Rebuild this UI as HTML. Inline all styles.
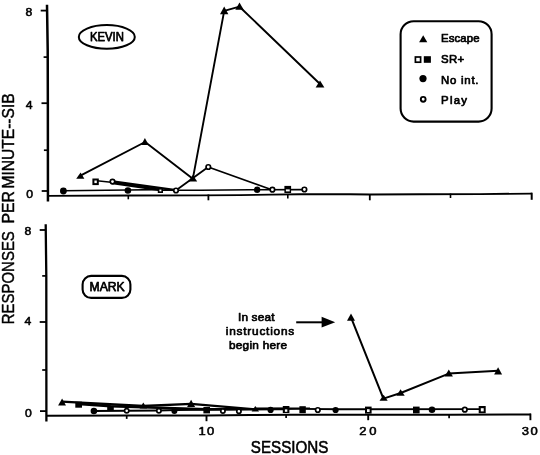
<!DOCTYPE html>
<html>
<head>
<meta charset="utf-8">
<title>Responses per minute - SIB</title>
<style>
html,body{margin:0;padding:0;background:#fff;}
svg{display:block;}
text{font-family:"Liberation Sans",sans-serif;fill:#000;stroke:#000;stroke-width:0.45;stroke-linejoin:round;}
.b{font-weight:bold;stroke-width:0.1;}
.m{font-weight:normal;stroke-width:0.7;}
.d{font-weight:normal;stroke-width:0.55;font-size:11.5px;}
.ln{stroke:#000;fill:none;stroke-linejoin:round;stroke-linecap:butt;}
.os{fill:#fff;stroke:#000;stroke-width:2;}
.oc{fill:#fff;stroke:#000;stroke-width:1.7;}
</style>
</head>
<body>
<svg width="540" height="455" viewBox="0 0 540 455">
<rect x="0" y="0" width="540" height="455" fill="#fff"/>

<!-- ===== y axis title ===== -->
<g transform="translate(14.1,323) rotate(-90)">
<text x="-1.2" y="0" font-size="17.3" textLength="93" lengthAdjust="spacingAndGlyphs">RESPONSES</text>
<text x="99.4" y="0" font-size="17.3" textLength="32.6" lengthAdjust="spacingAndGlyphs">PER</text>
<text x="134.6" y="0" font-size="17.3" textLength="95" lengthAdjust="spacingAndGlyphs">MINUTE--SIB</text>
</g>

<!-- ===== TOP PANEL axes ===== -->
<g class="ln">
<polyline points="47,4.8 47.7,50 47.85,103 47.95,201.6" stroke-width="2.5"/>
<polyline points="47,195.9 128,195.5 200,195.4 240,195.1 270,194.6 300,194.3 350,194.3 370,194.5 420,194.3 480,194.1 532,193.6" stroke-width="1.9"/>
<!-- y ticks -->
<line x1="40.7" y1="10.6" x2="47" y2="10.6" stroke-width="1.8"/>
<line x1="43.6" y1="57.1" x2="47.3" y2="57.1" stroke-width="1.7"/>
<line x1="41.5" y1="103.2" x2="47.5" y2="103.2" stroke-width="1.8"/>
<line x1="43.9" y1="150.2" x2="47.7" y2="150.2" stroke-width="1.7"/>
<line x1="41.7" y1="191" x2="47.8" y2="191" stroke-width="1.8"/>
<!-- x ticks -->
<line x1="128.3" y1="195" x2="128.3" y2="199.3" stroke-width="1.6"/>
<line x1="208.4" y1="194.5" x2="208.4" y2="200.3" stroke-width="1.8"/>
<line x1="287.8" y1="194" x2="287.8" y2="198.6" stroke-width="1.6"/>
<line x1="369.8" y1="194" x2="369.8" y2="200.3" stroke-width="1.8"/>
<line x1="450.5" y1="193.6" x2="450.5" y2="198" stroke-width="1.6"/>
<line x1="531.7" y1="192.7" x2="531.7" y2="199.8" stroke-width="2"/>
</g>

<!-- top panel tick labels -->
<text class="d" transform="translate(29.0,16.3) scale(1.06,1)" text-anchor="middle">8</text>
<text class="d" transform="translate(29.2,108.6) scale(1.06,1)" text-anchor="middle">4</text>
<text class="d" transform="translate(29.7,197.5) scale(1.06,1)" text-anchor="middle">0</text>

<!-- ===== TOP PANEL data ===== -->
<g class="ln" stroke-width="1.8">
<!-- baseline run (No int. / SR+ / Play overlapping) -->
<polyline points="63.4,190.8 128,190 158,189.6" stroke-width="1.6"/>
<polyline points="160,190.3 176,190.3 200,190.2 250,189.7 304.4,189.6" stroke-width="1.6"/>
<!-- SR+ -->
<polyline points="97,180.8 111,182.3" stroke-width="1.4"/>
<polyline points="112.5,183 160.6,190" stroke-width="2.6"/>
<!-- Play -->
<polyline points="112.6,181.4 175.8,190.2" stroke-width="2.4"/>
<polyline points="175.8,190.4 208.2,167 272.5,190"/>
<!-- Escape -->
<polyline points="80.4,175.6 145.1,142 192.8,178.8 224.2,10.8 239.5,6.7 320,84" stroke-width="1.9"/>
</g>
<!-- markers top -->
<g fill="#000" stroke="none">
<polygon points="80.6,172.4 84.4,178.8 76.2,178.8"/>
<polygon points="144.9,138 148.6,145 141.2,145"/>
<polygon points="192.8,175 197.2,181.4 188.4,181.4"/>
<polygon points="224.2,6.6 228.4,14.2 220,14.2"/>
<polygon points="239.5,2.6 243.7,9.8 235.3,9.8"/>
<polygon points="320,80.4 324.4,87.4 315.6,87.4"/>
<circle cx="63.4" cy="191" r="3.4"/>
<circle cx="127.9" cy="190.5" r="3.3"/>
<circle cx="257.1" cy="189.8" r="3.2"/>
</g>
<g class="oc">
<circle cx="112.5" cy="181.6" r="2.25"/>
<circle cx="176" cy="190.5" r="2.25"/>
<circle cx="208.3" cy="167" r="2.25"/>
<circle cx="272.4" cy="189.7" r="2.25"/>
<circle cx="304.4" cy="189.5" r="2.25"/>
</g>
<g class="os">
<rect x="93.4" y="179.5" width="4.4" height="4.6"/>
<rect x="158.6" y="188.8" width="3.6" height="3.4" stroke-width="1.6"/>

</g>
<rect x="284.4" y="185.9" width="6.7" height="7.1" fill="#000"/>
<rect x="285.9" y="189.4" width="3.8" height="2" fill="#fff"/>

<!-- KEVIN label -->
<ellipse cx="106.8" cy="36.9" rx="28" ry="11.8" fill="#fff" stroke="#000" stroke-width="2"/>
<text x="89.9" y="41.3" font-size="12.8" textLength="34" lengthAdjust="spacingAndGlyphs" style="stroke-width:0.75">KEVIN</text>

<!-- Legend -->
<rect x="400.6" y="21.3" width="91" height="100.3" rx="13" ry="13" fill="#fff" stroke="#000" stroke-width="2.1"/>
<polygon points="423.2,35.2 427.3,42.3 419.1,42.3" fill="#000"/>
<rect x="415.4" y="57" width="5.2" height="5.2" fill="#fff" stroke="#000" stroke-width="1.7"/>
<rect x="423.8" y="56.2" width="7.1" height="6.6" fill="#000"/>
<circle cx="423" cy="78.6" r="3.6" fill="#000"/>
<circle cx="423.2" cy="99.3" r="2.4" fill="#fff" stroke="#000" stroke-width="1.9"/>
<text class="m" x="441" y="42.2" font-size="11.4" textLength="38.6" lengthAdjust="spacing">Escape</text>
<text class="m" x="441" y="63.2" font-size="11.4" textLength="23.2" lengthAdjust="spacing">SR+</text>
<text class="m" x="441" y="84.1" font-size="11.4" textLength="37.5" lengthAdjust="spacing">No int.</text>
<text class="m" x="441" y="103.6" font-size="11.4" textLength="26" lengthAdjust="spacing">Play</text>

<!-- ===== BOTTOM PANEL axes ===== -->
<g class="ln">
<polyline points="45.7,224.2 46.3,276 46.4,421.5" stroke-width="2.3"/>
<polyline points="46,415.8 126,415.6 206,415.5 250,415.1 290,414.8 450,414.8 531,414.5" stroke-width="2"/>
<line x1="39.7" y1="230" x2="46" y2="230" stroke-width="1.8"/>
<line x1="42.2" y1="275.9" x2="46" y2="275.9" stroke-width="1.7"/>
<line x1="39.7" y1="322" x2="46.3" y2="322" stroke-width="1.8"/>
<line x1="42.2" y1="370" x2="46.5" y2="370" stroke-width="1.7"/>
<line x1="40" y1="411.1" x2="46.7" y2="411.1" stroke-width="1.8"/>
<line x1="126.7" y1="415.5" x2="126.7" y2="418.9" stroke-width="1.7"/>
<line x1="206.5" y1="415.5" x2="206.5" y2="421.2" stroke-width="1.9"/>
<line x1="286.1" y1="415" x2="286.1" y2="418.1" stroke-width="1.7"/>
<line x1="368.2" y1="414.5" x2="368.2" y2="420.2" stroke-width="1.9"/>
<line x1="449.1" y1="414" x2="449.1" y2="418.2" stroke-width="1.7"/>
<line x1="530.4" y1="413.6" x2="530.4" y2="420.2" stroke-width="1.9"/>
</g>
<text class="d" transform="translate(28.0,234.7) scale(1.06,1)" text-anchor="middle">8</text>
<text class="d" transform="translate(28.0,325.1) scale(1.06,1)" text-anchor="middle">4</text>
<text class="d" transform="translate(28.5,416.5) scale(1.06,1)" text-anchor="middle">0</text>
<text class="d" transform="translate(198.6,434.9) scale(1.13,1)" letter-spacing="1.1">10</text>
<text class="d" transform="translate(359.2,434.5) scale(1.13,1)" letter-spacing="2.4">20</text>
<text class="d" transform="translate(521.7,434.5) scale(1.13,1)" letter-spacing="1.4">30</text>
<text x="250.8" y="452.6" font-size="16.2" textLength="77.6" lengthAdjust="spacingAndGlyphs" style="stroke-width:0.55">SESSIONS</text>

<!-- ===== BOTTOM PANEL data ===== -->
<g class="ln" stroke-width="2">
<!-- Escape early -->
<polyline points="62,401.6 143.3,406 191.1,403.8 255.3,409.4" stroke-width="2.3"/>
<!-- SR+ -->
<polyline points="78.5,404 110.5,406.3 206.7,409.2 286,409" stroke-width="2.4"/>
<!-- baseline -->
<polyline points="93.9,411 126.7,410.8 158.9,410.5 176,410 255,409.3 300,408.9 340,409.2 482.2,409.1" stroke-width="1.9"/>
<polyline points="255,408.4 310,408.2" stroke-width="1.6"/>
<!-- Escape late -->
<polyline points="351.1,317.7 383.4,398.6 400.7,393 448.8,373.6 498.1,370.8" stroke-width="2"/>
</g>
<g fill="#000" stroke="none">
<polygon points="62.1,398.6 66,405.6 58.1,405.6"/>
<polygon points="143.3,402.6 147,408.6 139.6,408.6"/>
<polygon points="191.1,399.8 195.1,407 187.1,407"/>
<polygon points="255.3,406 259,411.6 251.6,411.6"/>
<polygon points="351,313.6 355,320.8 347,320.8"/>
<polygon points="383.6,394.8 387.7,400.8 379.5,400.8"/>
<polygon points="400.6,389.3 404.7,395.8 396.5,395.8"/>
<polygon points="448.8,369.5 452.9,376.5 444.7,376.5"/>
<polygon points="498.1,367.3 502.1,374.4 494.1,374.4"/>
<rect x="75.3" y="401.7" width="6.7" height="6"/>
<rect x="107.2" y="405.8" width="6.6" height="4.4"/>
<rect x="203.4" y="407" width="6.6" height="6.4"/>
<rect x="299.4" y="406.2" width="6.4" height="7"/>
<rect x="413" y="406.6" width="6.6" height="6.8"/>
<circle cx="93.9" cy="411" r="3.3"/>
<circle cx="174.4" cy="411" r="3"/>
<circle cx="270.6" cy="409.9" r="3.1"/>
<circle cx="335.6" cy="410" r="3.1"/>
<circle cx="432" cy="409.7" r="3.3"/>
</g>
<g class="oc">
<circle cx="126.7" cy="410.7" r="2.15"/>
<circle cx="158.9" cy="410.7" r="2.15"/>
<circle cx="222.9" cy="411" r="2.15"/>
<circle cx="238.9" cy="411.3" r="2.15"/>
<circle cx="317.8" cy="410" r="2.25"/>
<circle cx="464.8" cy="409.7" r="2.25"/>
</g>
<g fill="#000" stroke="none">
<rect x="282.8" y="406" width="6.6" height="7"/>
<rect x="365" y="406.6" width="6.6" height="7"/>
<rect x="478.7" y="406" width="7" height="7.2"/>
</g>
<g fill="#fff" stroke="none">
<rect x="284.9" y="409.4" width="2.4" height="2.4"/>
<rect x="367" y="409.2" width="2.6" height="2.8"/>
<rect x="480.8" y="408.2" width="2.9" height="3.2"/>
</g>

<!-- MARK label -->
<rect x="82.6" y="275.9" width="47.8" height="22" rx="8.5" ry="8.5" fill="#fff" stroke="#000" stroke-width="2.1"/>
<text x="89.5" y="291.4" font-size="13.2" textLength="35.2" lengthAdjust="spacingAndGlyphs" style="stroke-width:0.75">MARK</text>

<!-- annotation -->
<text class="m" x="237.9" y="320.6" font-size="11.8" textLength="36.6" lengthAdjust="spacing">In seat</text>
<text class="m" x="225.8" y="335" font-size="11.8" textLength="68.4" lengthAdjust="spacing">instructions</text>
<text class="m" x="229" y="348.8" font-size="11.8" textLength="58" lengthAdjust="spacing">begin here</text>
<line x1="296.2" y1="322.3" x2="323" y2="322.3" stroke="#000" stroke-width="2"/>
<polygon points="321.6,316.7 335.2,322.2 321.6,327.6" fill="#000"/>
</svg>
</body>
</html>
